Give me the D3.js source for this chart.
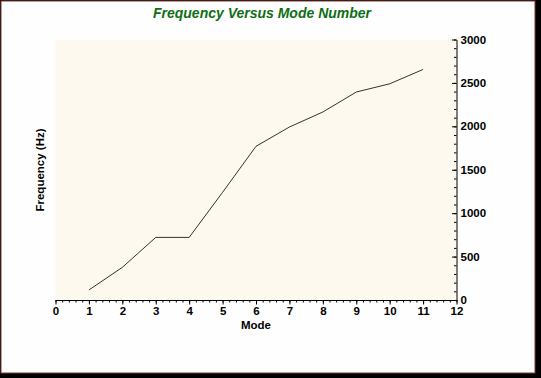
<!DOCTYPE html>
<html>
<head>
<meta charset="utf-8">
<script src="https://cdn.jsdelivr.net/npm/d3@7"></script>
<style>
  body { margin: 0; background: #000; }
  text { font-family: Arial, "Liberation Sans", sans-serif; }
</style>
</head>
<body>
<svg width="541" height="378"></svg>
<script>
let modes = [1, 2, 3, 4, 5, 6, 7, 8, 9, 10, 11];
let freqs = [115, 376, 721, 721, 1240, 1770, 1992, 2165, 2395, 2490, 2655];
let xTicks = [0, 1, 2, 3, 4, 5, 6, 7, 8, 9, 10, 11, 12];
let yTicks = [0, 500, 1000, 1500, 2000, 2500, 3000];

let svg = d3.select("svg"),
    width = +svg.attr("width"),
    height = +svg.attr("height");

// frame
svg.append("rect").attr("width", width).attr("height", height).attr("fill", "#000");
svg.append("rect")
    .attr("x", 1).attr("y", 1).attr("width", 534).attr("height", 372)
    .attr("fill", "#fefefe").attr("stroke", "#7a3b30").attr("stroke-width", 1);

let x = d3.scaleLinear().domain([0, 12]).range([55.5, 456.5]);
let y = d3.scaleLinear().domain([0, 3000]).range([300, 39.5]);

svg.append("rect")
    .attr("x", x(0)).attr("y", y(3000))
    .attr("width", x(12) - x(0)).attr("height", y(0) - y(3000))
    .attr("fill", "#fdf9ee");

// x axis
let xAxis = svg.append("g").attr("transform", `translate(0,${y(0)})`);
xAxis.append("g")
    .call(d3.axisBottom(x).tickValues(d3.range(0, 12.01, 0.2)).tickSize(2.5).tickFormat(""))
    .call(g => g.select(".domain").remove());
xAxis.append("g")
    .call(d3.axisBottom(x).tickValues(xTicks).tickSize(4.5).tickSizeOuter(0).tickPadding(2))
    .call(g => g.selectAll("text").attr("font-size", 11.5).attr("font-weight", "bold").attr("fill", "#000"));
xAxis.selectAll("line, path").attr("stroke", "#000");

// y axis on right
let yAxis = svg.append("g").attr("transform", `translate(${x(12)},0)`);
yAxis.append("g")
    .call(d3.axisLeft(y).tickValues(d3.range(0, 3001, 100)).tickSize(2.5).tickFormat(""))
    .call(g => g.select(".domain").remove());
yAxis.append("g")
    .call(d3.axisLeft(y).tickValues(yTicks).tickSize(4.5).tickSizeOuter(0).tickFormat(""));
yAxis.selectAll("line, path").attr("stroke", "#000");
yAxis.selectAll(".ylab").data(yTicks).enter().append("text")
    .attr("x", 4).attr("y", d => y(d)).attr("dy", "0.35em")
    .attr("font-size", 11.5).attr("font-weight", "bold").text(d => d);

// line
let line = d3.line().x((d, i) => x(modes[i])).y(d => y(d));
svg.append("path")
    .datum(freqs)
    .attr("d", line)
    .attr("fill", "none")
    .attr("stroke", "#000")
    .attr("stroke-width", 0.8);

// titles
svg.append("text")
    .attr("x", 262).attr("y", 18)
    .attr("text-anchor", "middle")
    .attr("font-size", 14).attr("font-weight", "bold").attr("font-style", "italic")
    .attr("fill", "#0f6e14")
    .text("Frequency Versus Mode Number");

svg.append("text")
    .attr("x", 256).attr("y", 329)
    .attr("text-anchor", "middle")
    .attr("font-size", 11.5).attr("font-weight", "bold")
    .text("Mode");

svg.append("text")
    .attr("transform", `translate(44,170) rotate(-90)`)
    .attr("text-anchor", "middle")
    .attr("font-size", 11.5).attr("font-weight", "bold")
    .text("Frequency (Hz)");
</script>
</body>
</html>
